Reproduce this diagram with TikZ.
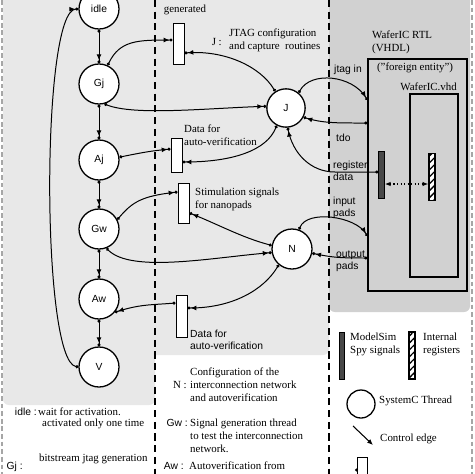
\documentclass[tikz,border=0pt]{standalone}
\usepackage{fontspec}
\setmainfont{Liberation Serif}
\setsansfont{Liberation Sans}
\usetikzlibrary{arrows.meta,patterns.meta}
\definecolor{lgray}{gray}{0.91}
\definecolor{dgray}{gray}{0.82}
\begin{document}
\begin{tikzpicture}[
  x=0.03cm, y=-0.03cm,
  thread/.style={circle, draw, line width=1.1pt, fill=white, minimum size=1.2cm,
                 inner sep=0pt, font=\sffamily\fontsize{8.8}{10}\selectfont},
  place/.style={rectangle, draw, line width=0.8pt, fill=white, minimum width=0.33cm,
                inner sep=0pt},
  spybar/.style={rectangle, draw, line width=0.6pt, fill=black!72,
                 minimum width=0.17cm, minimum height=1.42cm, inner sep=0pt},
  regbar/.style={rectangle, draw, line width=0.9pt, fill=white,
                 minimum width=0.18cm, minimum height=1.42cm, inner sep=0pt,
                 postaction={pattern={Lines[angle=45, distance=4.2pt, line width=1.1pt]}}},
  ctl/.style={line width=0.85pt,
              {Circle[length=2.6pt]}-{Latex[length=5pt, width=4.2pt] Circle[length=2.6pt]}},
  lbl/.style={inner sep=0pt, align=left, font=\fontsize{9.3}{11}\selectfont},
  slbl/.style={inner sep=0pt, align=left, font=\sffamily\fontsize{8.8}{10.5}\selectfont},
  sep/.style={line width=0.9pt, dash pattern=on 6pt off 4pt},
  rim/.style={black!35, line width=1.3pt, dash pattern=on 4pt off 2.5pt},
]
\useasboundingbox (0,0) rectangle (474,474);
\clip (0,0) rectangle (474,474);

% Background zones
\fill[white] (0,0) rectangle (474,474);
\fill[lgray, rounded corners=5pt] (3,-10) rectangle (329,355);
\fill[lgray, rounded corners=5pt] (3,300) rectangle (155,405);
\fill[dgray, rounded corners=5pt] (329,-10) rectangle (470,312);
\draw[rim] (2,0) -- (2,474);
\draw[rim] (472,0) -- (472,474);
\draw[sep] (155,0) -- (155,474);
\draw[sep] (329,0) -- (329,474);

% RTL side
\node[draw, line width=1pt, minimum width=2.97cm, minimum height=6.96cm, inner sep=0pt] (rtl) at (417.5,175) {};
\node[draw, line width=1pt, minimum width=1.44cm, minimum height=5.49cm, inner sep=0pt] (vhd) at (434,185.5) {};
\node[lbl, anchor=west] (rtltxt) at (372,42) {WaferIC RTL\\(VHDL)};
\node[lbl] (foreign) at (415,68) {("foreign entity")};
\node[lbl, anchor=east] (vhdtxt) at (457,87) {WaferIC.vhd};
\node[spybar] (spy) at (381.5,175) {};
\node[regbar] (reg) at (432,177) {};

% Threads
\node[thread] (idle) at (99,9)   {idle};
\node[thread] (Gj)   at (99,84)  {Gj};
\node[thread] (Aj)   at (99,160) {Aj};
\node[thread] (Gw)   at (99,229) {Gw};
\node[thread] (Aw)   at (99,299) {Aw};
\node[thread] (V)    at (99,367) {V};
\node[thread, minimum size=1.15cm] (J) at (286,108) {J};
\node[thread] (N)    at (292,249) {N};

% Places (data)
\node[place, minimum height=1.23cm] (P1) at (178.5,43.5) {};
\node[place, minimum height=1.02cm] (P2) at (176.5,155) {};
\node[place, minimum height=1.2cm]  (P3) at (183.5,203) {};
\node[place, minimum height=1.26cm] (P4) at (181.5,316) {};
\node[lbl] (genL) at (185,10) {generated};
\node[lbl, anchor=west] (p2L) at (184,135) {Data for\\auto-verification};
\node[lbl, anchor=west] (p3L) at (195,199.5) {Stimulation signals\\for nanopads};
\node[slbl, anchor=west] (p4L) at (190,340) {Data for\\auto-verification};
\node[lbl, anchor=east] (Jkey) at (222,42) {J :};
\node[lbl, anchor=west] (Jtxt) at (229,40) {JTAG configuration\\and capture\ \ routines};

% Port labels
\node[slbl, anchor=west] (jtagin)  at (334,70)    {jtag in};
\node[slbl, anchor=west] (tdo)     at (336,138)   {tdo};
\node[slbl, anchor=west] (regdat)  at (333,171)   {register\\data};
\node[slbl, anchor=west] (inpads)  at (333,207.5) {input\\pads};
\node[slbl, anchor=west] (outpads) at (336,261)   {output\\pads};

% Control flow
\draw[ctl] (idle) -- (Gj);
\draw[ctl] (Gj) -- (Aj);
\draw[ctl] (Aj) -- (Gw);
\draw[ctl] (Gw) -- (Aw);
\draw[ctl] (Aw) -- (V);
\draw[ctl] (V.west) .. controls (41,360) and (41,10) .. (idle.west);

% Data edges
\draw[ctl] (Gj.65) .. controls +(12,-25) and +(-35,0) .. (P1.west |- 0,40);
\draw[ctl] (J.123) .. controls +(-15,-25) and +(40,-3) .. (P1.east |- 0,53);
\draw[ctl] (Gj.-75) .. controls +(30,12) and +(-60,2) .. (J.175);
\draw[ctl] (Aj.8) .. controls +(25,-5) and +(-20,2) .. (P2.west |- 0,149);
\draw[ctl] (J.-118) .. controls +(-10,25) and +(50,0) .. (P2.east |- 0,162);
\draw[ctl] (Gw.27) .. controls +(15,-18) and +(-35,4) .. (P3.west |- 0,192);
\draw[ctl] (N.170) .. controls +(-30,-8) and +(30,12) .. (P3.east |- 0,213);
\draw[ctl] (Gw.-69) .. controls +(25,25) and +(-60,5) .. (N.190);
\draw[ctl] (N.-130) .. controls +(-15,25) and +(45,0) .. (P4.east |- 0,308);
\draw[ctl] (P4.west |- 0,303) .. controls +(-25,2) and +(25,-8) .. (Aw.-40);

% Ports to the RTL
\draw[ctl] (J.50) .. controls +(12,-22) and +(-15,-25) .. (rtl.west |- 0,100);
\draw[ctl] (rtl.west |- 0,123) .. controls +(-30,0) and +(20,6) .. (J.-28);
\draw[ctl] (N.70) .. controls +(8,-20) and +(-12,-20) .. (rtl.west |- 0,236);
\draw[ctl] (rtl.west |- 0,258) .. controls +(-30,0) and +(20,4) .. (N.-12);
\draw[ctl] (spy.west |- 0,172) -- (335,172) .. controls +(-25,0) and +(5,25) .. (J.-85);
\draw[dotted, line width=1pt, {Latex[length=5pt]}-{Latex[length=5pt]}]
  (spy.east |- 0,184) -- (reg.west |- 0,184);

% Legend
\node[spybar, minimum height=1.41cm] (kspy) at (342,355.5) {};
\node[regbar, minimum height=1.41cm] (kreg) at (412,355.5) {};
\node[lbl, anchor=west] (kspytxt) at (350,344) {ModelSim\\Spy signals};
\node[lbl, anchor=west] (kregtxt) at (423,344) {Internal\\registers};
\node[thread, minimum size=0.84cm] (kthr) at (361,404) {};
\node[lbl, anchor=west] (kthrtxt) at (379,401) {SystemC Thread};
\coordinate (kce1) at (353,426);
\coordinate (kce2) at (373,445);
\draw[line width=0.9pt, -{Latex[length=5pt, width=4.2pt]}] (kce1) -- (kce2);
\node[lbl, anchor=west] (kcetxt) at (380,439) {Control edge};
\node[place, minimum width=0.3cm, minimum height=1.38cm] (kplace) at (362,480) {};
\fill (kplace.west |- 0,470) circle (1.4pt);

\node[slbl, anchor=east] (kidle) at (37,412) {idle :};
\node[lbl, anchor=west] (kidle1) at (38,412) {wait for activation.};
\node[lbl, anchor=west] (kidle2) at (42,424) {activated only one time};
\node[slbl, anchor=east] (kGj) at (23,467) {Gj :};
\node[lbl, anchor=west] (kGjtxt) at (39,459) {bitstream jtag generation};
\node[lbl, anchor=east] (kN) at (187,385) {N :};
\node[lbl, anchor=west] (kNtxt) at (190,385) {Configuration of the\\interconnection network\\and autoverification};
\node[slbl, anchor=east] (kGw) at (188,423) {Gw :};
\node[lbl, anchor=west] (kGwtxt) at (190,436) {Signal generation thread\\to test the interconnection\\network.};
\node[slbl, anchor=east] (kAw) at (184,466) {Aw :};
\node[lbl, anchor=west] (kAwtxt) at (189,466) {Autoverification from};
\end{tikzpicture}
\end{document}
